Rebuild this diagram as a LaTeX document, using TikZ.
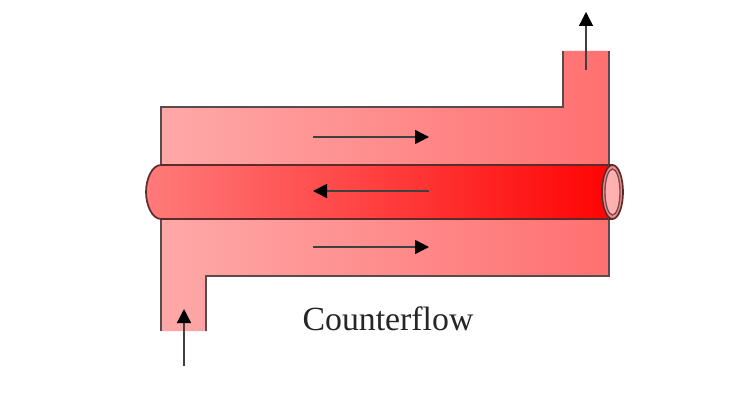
\documentclass[tikz,border=0pt]{standalone}
\usepackage{fontspec}
\setmainfont{Liberation Serif}
\usetikzlibrary{arrows.meta}
\definecolor{edge}{HTML}{5A4A4A}
\definecolor{tubeedge}{HTML}{5E2A2A}
\definecolor{rimfill}{HTML}{EE8C8C}
\definecolor{borefill}{HTML}{FFB0B0}
\tikzset{
  outline/.style={draw=edge,line width=1.7pt,line join=miter},
  tubeline/.style={draw=tubeedge,line width=1.7pt},
  flow/.style={draw=black!75,line width=1.4pt,-{Triangle[length=14pt,width=14pt,color=black]}},
  caption/.style={font=\fontsize{33.8}{38}\selectfont,text=black!85,inner sep=0pt}
}
\begin{document}
\begin{tikzpicture}[x=1pt,y=-1pt]
\useasboundingbox[fill=white] (0,0) rectangle (743,414);
% shell
\shade[left color=red!34!white,right color=red!56!white]
  (161,107) -- (563,107) -- (563,51) -- (609,51) -- (609,276) -- (206,276) -- (206,331) -- (161,331) -- cycle;
\path[outline] (161,331) -- (161,107) -- (563,107) -- (563,51);
\path[outline] (609,51) -- (609,276) -- (206,276) -- (206,331);
% tube
\shade[left color=red!52!white,right color=red!100!white]
  (161,165) -- (612,165) arc[start angle=-90,end angle=90,x radius=11,y radius=27] -- (161,219)
  .. controls (152,219) and (146,205) .. (146,192) .. controls (146,179) and (152,165) .. (161,165) -- cycle;
\path[tubeline] (612,165) -- (161,165) .. controls (152,165) and (146,179) .. (146,192)
  .. controls (146,205) and (152,219) .. (161,219) -- (612,219);
\path[draw=tubeedge,line width=1.7pt,fill=rimfill] (612.5,192) ellipse[x radius=10.5,y radius=27];
\path[draw=tubeedge!85,line width=1.3pt,fill=borefill] (612.5,192) ellipse[x radius=7.5,y radius=23];
% arrow ends
\coordinate (outA) at (586,70); \coordinate (outB) at (586,12);
\coordinate (inA) at (184,366); \coordinate (inB) at (184,309);
\coordinate (upA) at (313,137); \coordinate (upB) at (429,137);
\coordinate (midA) at (429,191); \coordinate (midB) at (313,191);
\coordinate (lowA) at (313,247); \coordinate (lowB) at (429,247);
\draw[flow] (outA) -- (outB);
\draw[flow] (inA) -- (inB);
\draw[flow] (upA) -- (upB);
\draw[flow] (midA) -- (midB);
\draw[flow] (lowA) -- (lowB);
\node[caption] (label) at (388,319) {Counterflow};
\end{tikzpicture}
\end{document}
